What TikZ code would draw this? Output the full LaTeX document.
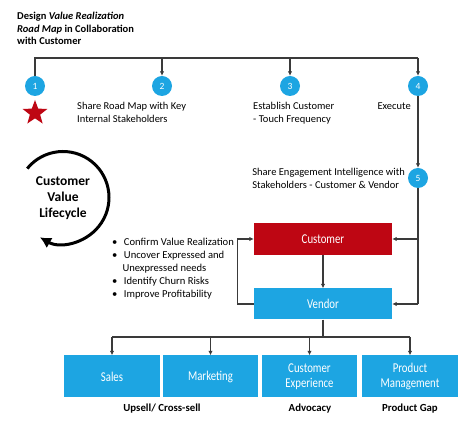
\documentclass[tikz,border=0pt]{standalone}
\usepackage{fontspec}
\setmainfont{Carlito}
\newfontfamily\boxfont[FakeStretch=0.8]{Carlito}
\usetikzlibrary{arrows.meta,shapes.geometric}
\definecolor{vcyan}{HTML}{1DA5E2}
\definecolor{vred}{HTML}{BE0613}
\definecolor{vline}{HTML}{3A3A3A}
\tikzset{
  stepdot/.style={circle,fill=vcyan,text=white,minimum size=20pt,inner sep=0pt,font=\fontsize{9.5}{10}\selectfont},
  box/.style={fill=vcyan,text=white,align=center,inner sep=0pt,font=\boxfont\fontsize{13.5}{14.5}\selectfont},
  note/.style={align=left,inner sep=0pt,font=\fontsize{10.5}{12.8}\selectfont},
  tag/.style={inner sep=0pt,font=\fontsize{10.8}{12}\selectfont\bfseries},
  link/.style={draw=vline,line width=1.1pt,-{Latex[length=4.5pt,width=4.5pt]}},
  plain/.style={draw=vline,line width=1.1pt}
}
\begin{document}
\begin{tikzpicture}[x=1pt,y=1pt]
\useasboundingbox (0,0) rectangle (474,428);
% steps along the top
\node[note,anchor=north west,font=\fontsize{10.5}{12.5}\selectfont\bfseries] (title) at (17,416)
  {Design \textit{Value Realization}\\\textit{Road Map} in Collaboration\\with Customer};
\node[stepdot] (c1) at (35,342) {1};
\node[stepdot] (c2) at (162,342) {2};
\node[stepdot] (c3) at (290,342) {3};
\node[stepdot] (c4) at (418,342) {4};
\node[stepdot] (c5) at (418,250) {5};
\node[star,star points=5,star point ratio=2.4,fill=vred,minimum size=26pt,inner sep=0pt] (star) at (35,315) {};
\coordinate (bus) at (418,370);
\draw[plain] (c1.north) |- (bus);
\draw[link] (bus) -- (c4.north);
\draw[link] (c2 |- bus) -- (c2.north);
\draw[link] (c3 |- bus) -- (c3.north);
\draw[link] (c4.south) -- (c5.north);
\node[note,anchor=north west] (t2) at (77,326) {Share Road Map with Key\\Internal Stakeholders};
\node[note,anchor=north west] (t3) at (253,326) {Establish Customer\\- Touch Frequency};
\node[note,anchor=east] (t4) at (411,322) {Execute};
\node[note,anchor=east] (t5) at (405,250) {Share Engagement Intelligence with\\Stakeholders - Customer \& Vendor};
% lifecycle
\draw[line width=3pt,-{Latex[length=11pt,width=12pt]}] (63,230.5) ++(141:46) arc[start angle=141,end angle=-120,radius=46];
\node[align=center,font=\fontsize{13.5}{16}\selectfont\bfseries] (cycle) at (63,230) {Customer\\Value\\Lifecycle};
% customer and vendor
\node[box,fill=vred,minimum width=138pt,minimum height=32pt] (cust) at (323,189) {Customer};
\node[box,minimum width=138pt,minimum height=31pt] (vend) at (323,124) {Vendor};
\coordinate (side) at (418,124);
\draw[link] (cust.south) -- (vend.north);
\draw[plain] (c5.south) -- (side);
\draw[link] (c5.south |- cust.east) -- (cust.east);
\draw[link] (side) -- (vend.east);
\draw[link] (vend.west) -- ++(-16,0) |- (cust.west);
\node[note,anchor=north west,font=\fontsize{10.6}{13}\selectfont] (bul) at (112,190)
  {\textbullet\hspace{6.5pt}Confirm Value Realization\\
   \textbullet\hspace{6.5pt}Uncover Expressed and\\
   \hspace{10.3pt}Unexpressed needs\\
   \textbullet\hspace{6.5pt}Identify Churn Risks\\
   \textbullet\hspace{6.5pt}Improve Profitability};
% functions
\node[box,minimum width=96pt,minimum height=42pt] (sales) at (112,51.5) {Sales};
\node[box,minimum width=95pt,minimum height=42pt] (mkt) at (210.5,51.5) {Marketing};
\node[box,minimum width=95pt,minimum height=42pt] (cx) at (309.5,51.5) {Customer\\Experience};
\node[box,minimum width=96pt,minimum height=42pt] (pm) at (410,51.5) {Product\\Management};
\coordinate (split) at (323,91);
\draw[plain] (vend.south) -- (split);
\draw[plain] (sales |- split) -- (pm |- split);
\foreach \f in {sales,mkt,cx,pm}
  \draw[link] (\f |- split) -- (\f.north);
\node[tag] (up) at (162,19) {Upsell/ Cross-sell};
\node[tag] (adv) at (310,19) {Advocacy};
\node[tag] (gap) at (410,19) {Product Gap};
\end{tikzpicture}
\end{document}
